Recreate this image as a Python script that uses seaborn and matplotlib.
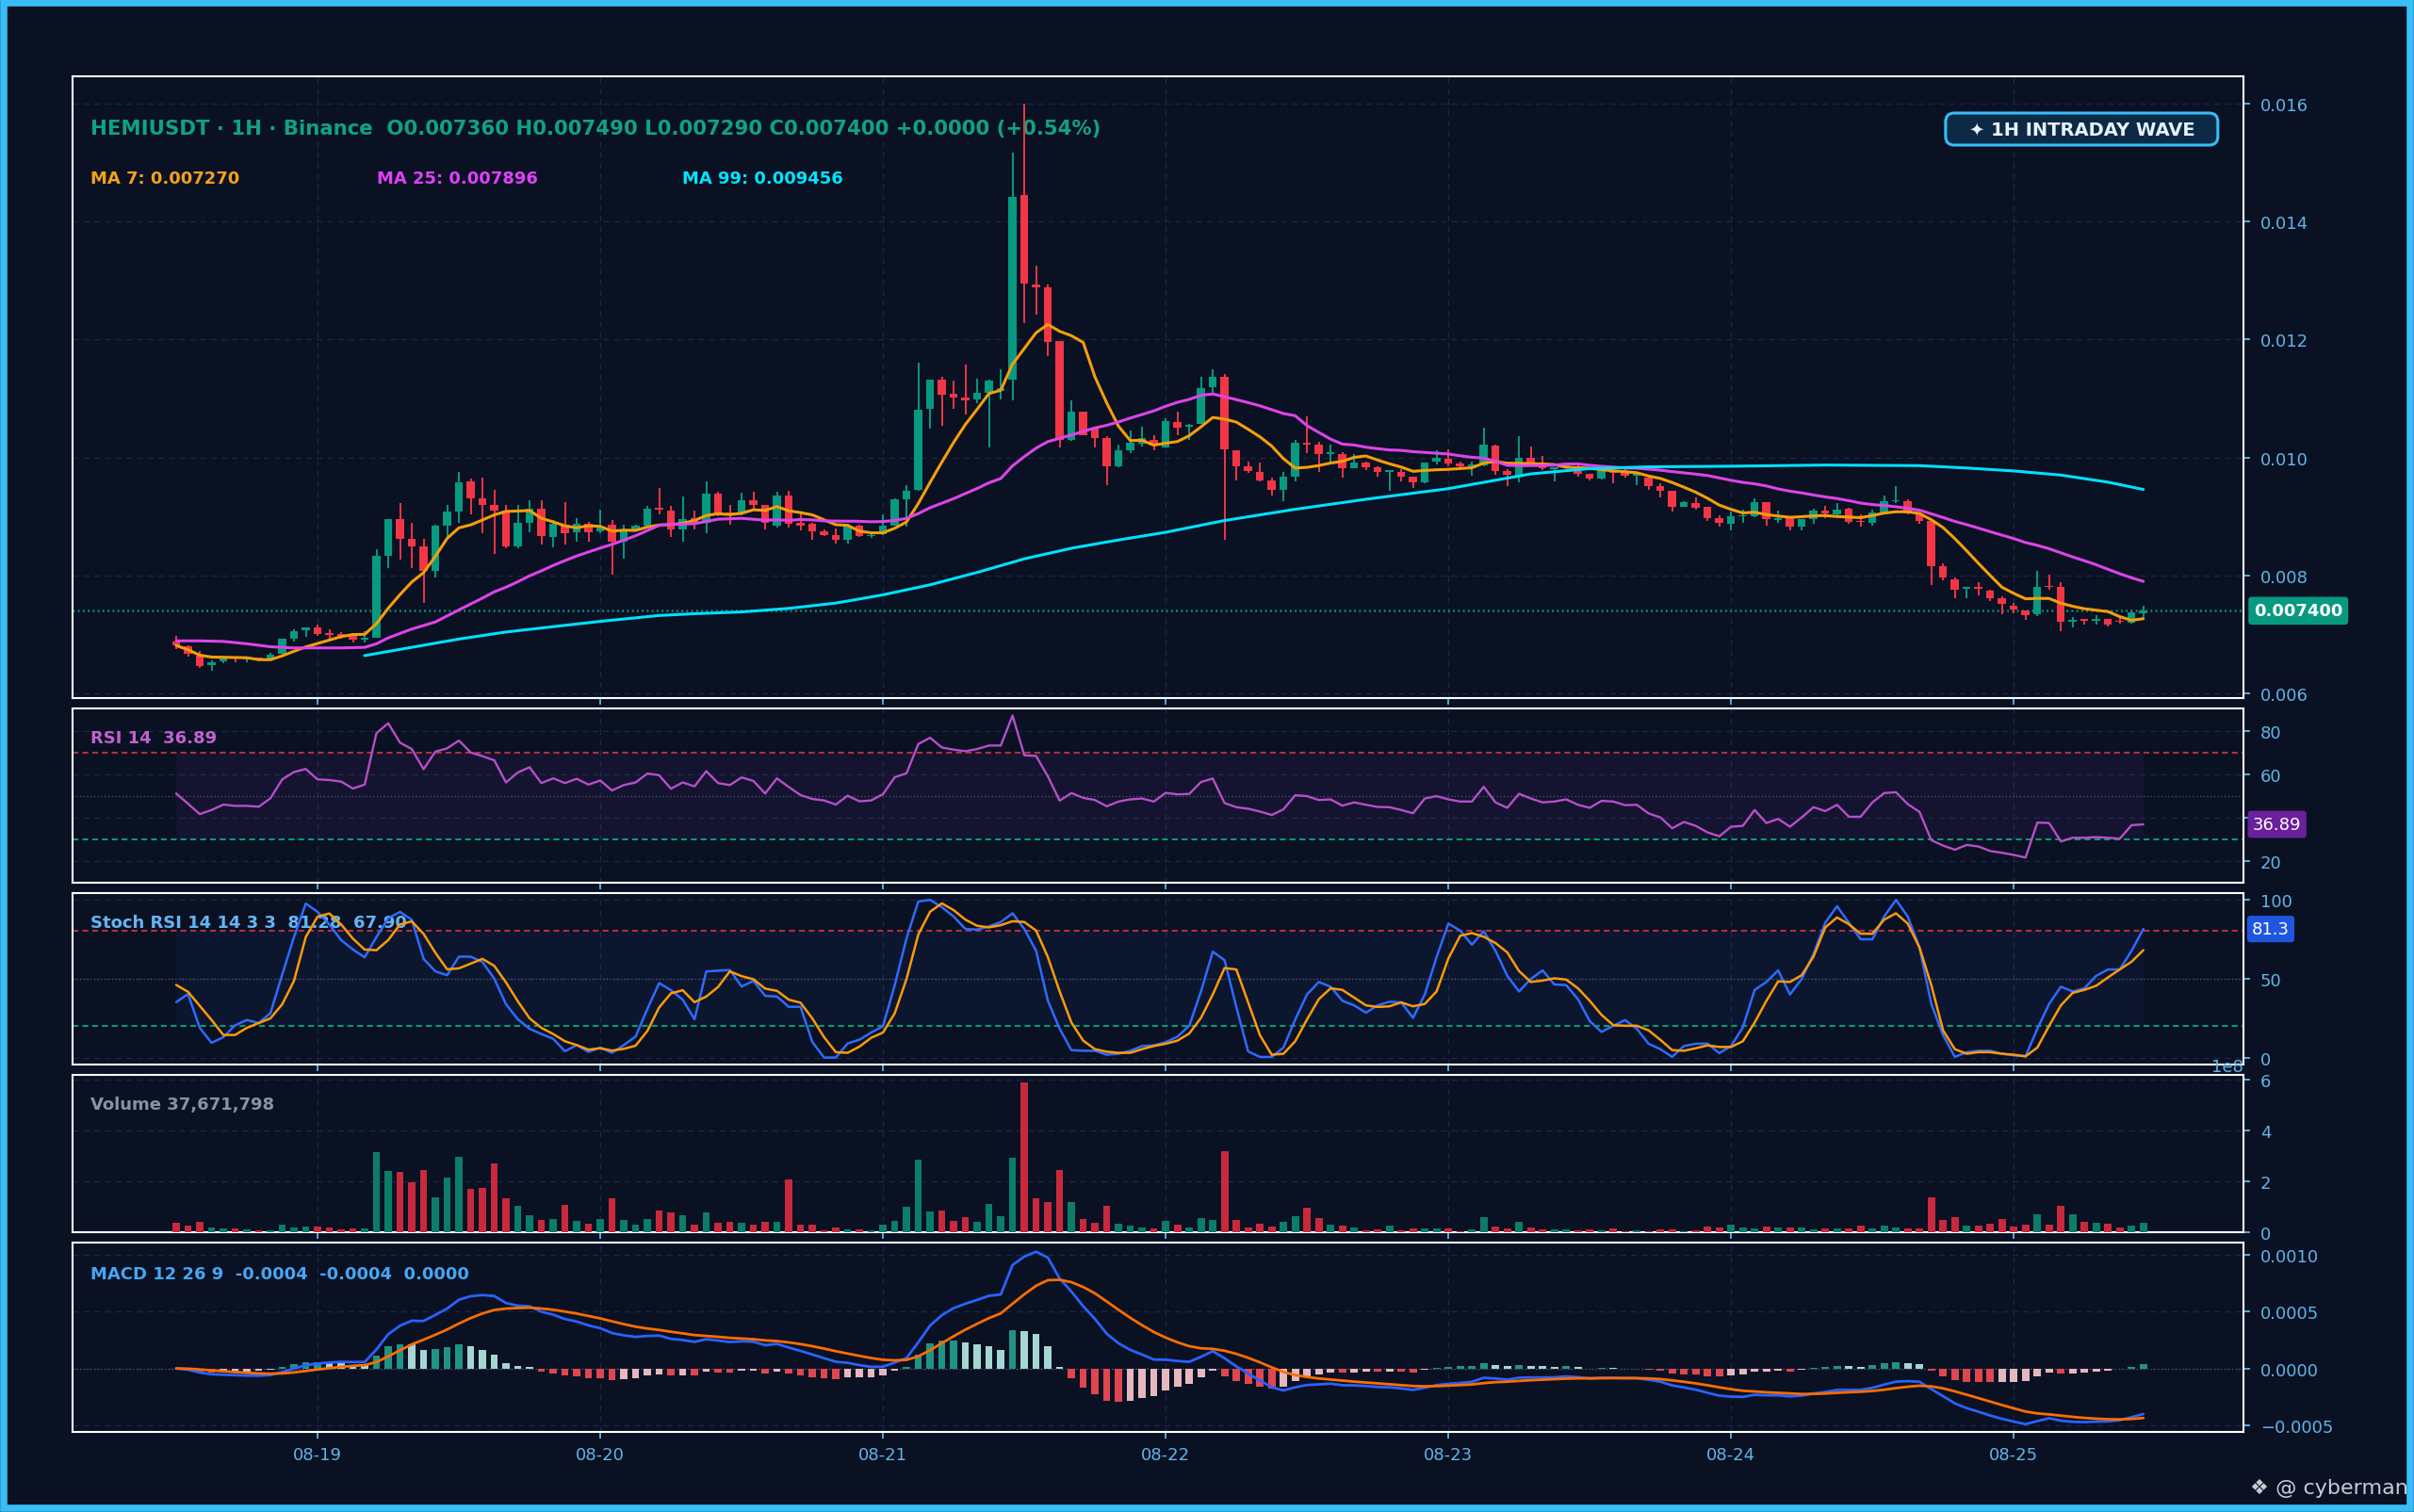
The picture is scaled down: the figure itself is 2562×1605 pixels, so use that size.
import numpy as np
import pandas as pd
import matplotlib
matplotlib.use("Agg")
import matplotlib.pyplot as plt
import matplotlib.dates as mdates
from matplotlib.patches import Rectangle, FancyBboxPatch
from matplotlib.ticker import FixedLocator, FuncFormatter
import seaborn as sns

# ---------------- data ----------------
start_time = "2025-08-18 12:00"
n_candles = 168

opens = [
    0.00688, 0.00680, 0.00664, 0.00648, 0.00654, 0.00660, 0.00657, 0.00659, 0.00659, 0.00667,
    0.00692, 0.00707, 0.00711, 0.00700, 0.00699, 0.00700, 0.00691, 0.00695, 0.00833, 0.00895,
    0.00862, 0.00849, 0.00808, 0.00884, 0.00908, 0.00960, 0.00930, 0.00920, 0.00910, 0.00849,
    0.00889, 0.00913, 0.00865, 0.00886, 0.00873, 0.00888, 0.00874, 0.00886, 0.00857, 0.00878,
    0.00884, 0.00913,
    0.00910, 0.00878, 0.00897, 0.00889, 0.00939, 0.00907, 0.00905, 0.00928, 0.00920, 0.00885,
    0.00936, 0.00889, 0.00887, 0.00874, 0.00869, 0.00861, 0.00884, 0.00866, 0.00870, 0.00884,
    0.00929, 0.00945, 0.01083, 0.01132, 0.01108, 0.01101, 0.01099, 0.01110, 0.01112, 0.01131,
    0.01444, 0.01293, 0.01288, 0.01197, 0.01029, 0.01077, 0.01048, 0.01032, 0.00985, 0.01012,
    0.01023, 0.01030,
    0.01017, 0.01060, 0.01052, 0.01057, 0.01119, 0.01137, 0.01012, 0.00985, 0.00976, 0.00961,
    0.00945, 0.00967, 0.01025, 0.01022, 0.01006, 0.01006, 0.00981, 0.00991, 0.00983, 0.00976,
    0.00975, 0.00967, 0.00957, 0.00993, 0.00998, 0.00989, 0.00985, 0.00986, 0.01020, 0.00977,
    0.00969, 0.01000, 0.00989, 0.00980, 0.00985, 0.00977, 0.00972, 0.00964, 0.00975, 0.00976,
    0.00969, 0.00966,
    0.00951, 0.00943, 0.00916, 0.00922, 0.00916, 0.00897, 0.00888, 0.00900, 0.00901, 0.00924,
    0.00894, 0.00897, 0.00882, 0.00896, 0.00910, 0.00904, 0.00913, 0.00891, 0.00889, 0.00907,
    0.00925, 0.00926, 0.00905, 0.00892, 0.00815, 0.00794, 0.00778, 0.00781, 0.00774, 0.00761,
    0.00749, 0.00741, 0.00734, 0.00782, 0.00780, 0.00722, 0.00725, 0.00723, 0.00726, 0.00723,
    0.00719, 0.007360,
]
highs = [
    0.00698, 0.00681, 0.00672, 0.00656, 0.00661, 0.00663, 0.00660, 0.00660, 0.00669, 0.00693,
    0.00708, 0.00712, 0.00717, 0.00709, 0.00704, 0.00701, 0.00706, 0.00845, 0.00895, 0.00922,
    0.00889, 0.00862, 0.00886, 0.00920, 0.00975, 0.00964, 0.00965, 0.00945, 0.00920, 0.00920,
    0.00927, 0.00927, 0.00894, 0.00924, 0.00897, 0.00891, 0.00911, 0.00894, 0.00886, 0.00886,
    0.00917, 0.00948,
    0.00918, 0.00934, 0.00910, 0.00960, 0.00941, 0.00920, 0.00940, 0.00941, 0.00920, 0.00942,
    0.00944, 0.00908, 0.00889, 0.00878, 0.00880, 0.00887, 0.00886, 0.00873, 0.00904, 0.00930,
    0.00953, 0.01160, 0.01132, 0.01137, 0.01130, 0.01157, 0.01133, 0.01132, 0.01150, 0.01516,
    0.01600, 0.01325, 0.01293, 0.01197, 0.01096, 0.01077, 0.01048, 0.01036, 0.01021, 0.01046,
    0.01052, 0.01038,
    0.01067, 0.01078, 0.01056, 0.01137, 0.01150, 0.01142, 0.01012, 0.00993, 0.00992, 0.00965,
    0.00975, 0.01030, 0.01069, 0.01026, 0.01021, 0.01009, 0.01006, 0.00993, 0.00985, 0.00978,
    0.00980, 0.00967, 0.00992, 0.01012, 0.01013, 0.00993, 0.00993, 0.01050, 0.01021, 0.00980,
    0.01036, 0.01018, 0.01002, 0.00982, 0.00991, 0.00992, 0.00972, 0.00980, 0.00980, 0.00980,
    0.00975, 0.00969,
    0.00956, 0.00943, 0.00926, 0.00932, 0.00916, 0.00902, 0.00908, 0.00912, 0.00930, 0.00924,
    0.00910, 0.00900, 0.00896, 0.00913, 0.00917, 0.00922, 0.00915, 0.00904, 0.00911, 0.00936,
    0.00951, 0.00929, 0.00905, 0.00892, 0.00821, 0.00797, 0.00781, 0.00789, 0.00776, 0.00764,
    0.00753, 0.00741, 0.00808, 0.00802, 0.00788, 0.00730, 0.00726, 0.00733, 0.00726, 0.00728,
    0.00740, 0.007490,
]
lows = [
    0.00675, 0.00662, 0.00643, 0.00638, 0.00651, 0.00652, 0.00652, 0.00655, 0.00656, 0.00666,
    0.00688, 0.00696, 0.00697, 0.00693, 0.00692, 0.00686, 0.00686, 0.00694, 0.00813, 0.00827,
    0.00812, 0.00753, 0.00796, 0.00862, 0.00889, 0.00904, 0.00872, 0.00836, 0.00846, 0.00846,
    0.00873, 0.00852, 0.00847, 0.00853, 0.00857, 0.00857, 0.00872, 0.00801, 0.00828, 0.00876,
    0.00884, 0.00903,
    0.00865, 0.00857, 0.00878, 0.00871, 0.00900, 0.00886, 0.00902, 0.00910, 0.00878, 0.00881,
    0.00881, 0.00876, 0.00861, 0.00867, 0.00854, 0.00854, 0.00865, 0.00864, 0.00868, 0.00884,
    0.00882, 0.00944, 0.01049, 0.01053, 0.01083, 0.01073, 0.01092, 0.01016, 0.01098, 0.01096,
    0.01227, 0.01242, 0.01171, 0.01017, 0.01028, 0.01038, 0.01016, 0.00953, 0.00984, 0.01008,
    0.01018, 0.01012,
    0.01016, 0.01037, 0.01030, 0.01057, 0.01110, 0.00861, 0.00961, 0.00973, 0.00960, 0.00936,
    0.00925, 0.00960, 0.01007, 0.00976, 0.00992, 0.00966, 0.00981, 0.00979, 0.00968, 0.00944,
    0.00960, 0.00948, 0.00956, 0.00988, 0.00985, 0.00983, 0.00969, 0.00985, 0.00971, 0.00952,
    0.00958, 0.00985, 0.00979, 0.00960, 0.00984, 0.00968, 0.00961, 0.00963, 0.00956, 0.00965,
    0.00953, 0.00945,
    0.00932, 0.00908, 0.00916, 0.00911, 0.00892, 0.00882, 0.00876, 0.00889, 0.00899, 0.00884,
    0.00889, 0.00876, 0.00877, 0.00887, 0.00897, 0.00900, 0.00888, 0.00882, 0.00885, 0.00905,
    0.00922, 0.00903, 0.00888, 0.00784, 0.00792, 0.00761, 0.00761, 0.00766, 0.00757, 0.00734,
    0.00736, 0.00725, 0.00731, 0.00775, 0.00705, 0.00712, 0.00716, 0.00717, 0.00714, 0.00718,
    0.00718, 0.007290,
]
closes = [
    0.00681, 0.00667, 0.00646, 0.00652, 0.00660, 0.00659, 0.00658, 0.00658, 0.00666, 0.00692,
    0.00706, 0.00712, 0.00700, 0.00699, 0.00698, 0.00691, 0.00694, 0.00833, 0.00895, 0.00862,
    0.00849, 0.00808, 0.00884, 0.00908, 0.00958, 0.00930, 0.00920, 0.00910, 0.00849, 0.00889,
    0.00913, 0.00866, 0.00888, 0.00872, 0.00888, 0.00873, 0.00881, 0.00857, 0.00878, 0.00884,
    0.00913, 0.00912,
    0.00878, 0.00896, 0.00890, 0.00938, 0.00905, 0.00902, 0.00928, 0.00919, 0.00889, 0.00935,
    0.00888, 0.00884, 0.00875, 0.00869, 0.00861, 0.00882, 0.00866, 0.00868, 0.00884, 0.00929,
    0.00944, 0.01080, 0.01132, 0.01107, 0.01102, 0.01097, 0.01110, 0.01130, 0.01118, 0.01442,
    0.01294, 0.01288, 0.01195, 0.01029, 0.01078, 0.01038, 0.01032, 0.00985, 0.01012, 0.01025,
    0.01033, 0.01020,
    0.01062, 0.01051, 0.01054, 0.01117, 0.01137, 0.01013, 0.00985, 0.00977, 0.00961, 0.00945,
    0.00967, 0.01025, 0.01022, 0.01006, 0.01007, 0.00982, 0.00991, 0.00984, 0.00976, 0.00978,
    0.00967, 0.00957, 0.00992, 0.00999, 0.00989, 0.00985, 0.00988, 0.01022, 0.00977, 0.00970,
    0.00999, 0.00985, 0.00981, 0.00981, 0.00990, 0.00972, 0.00964, 0.00980, 0.00973, 0.00969,
    0.00970, 0.00951,
    0.00943, 0.00916, 0.00924, 0.00914, 0.00897, 0.00889, 0.00900, 0.00901, 0.00924, 0.00896,
    0.00897, 0.00882, 0.00896, 0.00910, 0.00905, 0.00912, 0.00890, 0.00890, 0.00907, 0.00925,
    0.00926, 0.00905, 0.00892, 0.00815, 0.00797, 0.00776, 0.00781, 0.00777, 0.00761, 0.00752,
    0.00742, 0.00733, 0.00781, 0.00780, 0.00721, 0.00724, 0.00723, 0.00725, 0.00716, 0.00721,
    0.00737, 0.007400,
]
# volume in units of 1e8
volume_e8 = [
    0.38, 0.26, 0.41, 0.19, 0.15, 0.15, 0.11, 0.08, 0.08, 0.30,
    0.19, 0.23, 0.23, 0.19, 0.11, 0.15, 0.15, 3.16, 2.41, 2.37,
    1.96, 2.45, 1.39, 2.14, 2.97, 1.69, 1.73, 2.71, 1.35, 1.05,
    0.68, 0.49, 0.53, 1.09, 0.45, 0.34, 0.53, 1.32, 0.49, 0.30,
    0.53, 0.87, 0.79, 0.68, 0.30, 0.79, 0.38, 0.41, 0.38, 0.30,
    0.41, 0.41, 2.07, 0.30, 0.30, 0.08, 0.19, 0.11, 0.11, 0.08,
    0.30, 0.46, 1.00, 2.86, 0.83, 0.87, 0.45, 0.59, 0.41, 1.13,
    0.64, 2.93, 5.91, 1.32, 1.20, 2.45, 1.20, 0.53, 0.38, 1.05,
    0.34, 0.26, 0.19, 0.15, 0.45, 0.30, 0.19, 0.56, 0.49, 3.20,
    0.49, 0.19, 0.34, 0.23, 0.41, 0.64, 0.98, 0.56, 0.30, 0.26,
    0.19, 0.08, 0.11, 0.26, 0.08, 0.15, 0.15, 0.15, 0.15, 0.04,
    0.11, 0.60, 0.23, 0.15, 0.41, 0.19, 0.11, 0.11, 0.11, 0.08,
    0.11, 0.08, 0.15, 0.04, 0.08, 0.04, 0.11, 0.11, 0.04, 0.08,
    0.23, 0.19, 0.30, 0.19, 0.15, 0.23, 0.19, 0.19, 0.19, 0.11,
    0.15, 0.15, 0.15, 0.26, 0.15, 0.26, 0.19, 0.15, 0.15, 1.39,
    0.49, 0.60, 0.26, 0.26, 0.34, 0.53, 0.23, 0.30, 0.71, 0.30,
    1.05, 0.71, 0.41, 0.38, 0.34, 0.19, 0.26, 0.37671798,
]
# MA25 values before the 25-candle window is full
ma25_head_idx = [0, 2, 4, 6, 8, 10, 12, 14, 16, 17, 18, 20, 22]
ma25_head_val = [0.00689, 0.00689, 0.00688, 0.00684, 0.00679, 0.00677, 0.00677,
                 0.00677, 0.00678, 0.00684, 0.00694, 0.00709, 0.00721]
# MA99
ma99_idx = [16, 20, 24, 28, 32, 36, 41, 44, 48, 52, 56, 60, 64, 68, 72, 76, 80, 84, 89,
            95, 101, 108, 115, 120, 125, 132, 140, 148, 152, 156, 160, 164, 167]
ma99_val = [0.00664, 0.00678, 0.00692, 0.00704, 0.00713, 0.00722, 0.00732, 0.00735,
            0.00738, 0.00744, 0.00753, 0.00767, 0.00784, 0.00805, 0.00828, 0.00846,
            0.00860, 0.00873, 0.00893, 0.00912, 0.00929, 0.00947, 0.00972, 0.00981,
            0.00984, 0.00985, 0.00987, 0.00986, 0.00982, 0.00977, 0.00970, 0.00958, 0.009456]
rsi_vals = [
    51.1, 46.4, 41.6, 43.5, 46.0, 45.4, 45.4, 45.0, 48.9, 57.6,
    61.0, 62.4, 57.6, 57.3, 56.6, 53.4, 55.2, 78.9, 83.5, 74.5,
    71.6, 62.3, 70.4, 71.9, 75.5, 70.0, 68.3, 66.4, 56.2, 60.8,
    63.2, 55.9, 58.1, 55.9, 57.9, 55.2, 57.1, 52.5, 55.0, 56.2,
    60.3, 59.5, 53.3, 56.2, 54.4, 61.4, 55.9, 55.0, 58.5, 56.9,
    51.1, 58.1, 54.1, 50.4, 48.6, 47.9, 46.0, 50.1, 47.5, 47.9,
    50.8, 58.6, 60.4, 73.9, 76.8, 72.3, 71.3, 70.6, 71.6, 73.2,
    73.2, 87.0, 68.7, 68.4, 59.0, 47.8, 51.3, 49.1, 48.1, 45.2,
    47.4, 48.4, 48.8, 47.4, 51.4, 50.7, 50.9, 56.4, 58.0, 46.7,
    44.8, 44.1, 42.8, 41.2, 43.8, 50.3, 49.9, 48.1, 48.4, 45.5,
    47.0, 45.9, 44.9, 44.8, 43.5, 42.0, 48.8, 49.9, 48.4, 47.4,
    47.4, 54.2, 47.0, 44.5, 51.0, 48.8, 47.0, 47.4, 48.4, 45.9,
    44.5, 47.7, 47.4, 45.7, 45.9, 41.9, 40.1, 35.1, 38.0, 36.2,
    33.2, 31.4, 35.8, 36.2, 43.5, 37.5, 39.4, 35.8, 40.1, 44.8,
    43.0, 45.9, 40.4, 40.4, 47.0, 51.3, 51.7, 46.2, 42.6, 29.6,
    27.1, 25.2, 27.4, 26.7, 24.6, 23.8, 22.8, 21.6, 37.7, 37.5,
    29.0, 30.7, 30.7, 31.0, 30.7, 30.3, 36.5, 36.89,
]
stoch_k = [
    35.0, 40.2, 18.8, 9.3, 12.9, 20.4, 23.8, 21.8, 28.1, 52.5,
    76.2, 97.4, 92.1, 84.2, 74.3, 68.3, 63.4, 76.2, 88.1, 92.1,
    87.1, 62.4, 54.5, 52.1, 63.8, 63.8, 60.4, 49.9, 33.7, 24.2,
    18.2, 14.9, 11.9, 4.0, 7.9, 3.6, 6.3, 3.0, 7.9, 13.3,
    30.7, 47.1, 42.6, 36.6, 24.2, 54.5, 54.9, 55.4, 44.9, 48.5,
    39.0, 38.6, 32.1, 32.1, 9.9, 0.0, 0.0, 8.9, 11.3, 15.8,
    19.8, 45.8, 75.4, 98.7, 99.7, 95.1, 89.2, 81.3, 80.9, 82.9,
    85.7, 91.2, 81.3, 67.5, 35.9, 18.2, 4.7, 4.3, 4.3, 1.8,
    2.4, 4.3, 7.3, 7.7, 9.7, 13.2, 20.1, 41.8, 66.9, 61.6,
    32.0, 3.9, 0.4, 0.4, 6.3, 24.1, 39.9, 47.8, 44.8, 35.9,
    33.0, 28.4, 33.0, 35.3, 34.9, 25.1, 39.9, 63.5, 84.7, 80.3,
    71.4, 79.9, 67.5, 51.7, 41.8, 49.7, 55.1, 46.2, 45.8, 36.9,
    23.1, 16.2, 20.1, 23.7, 18.2, 8.7, 5.3, 0.4, 7.3, 8.7,
    8.9, 2.8, 7.3, 19.1, 42.8, 47.8, 55.1, 39.9, 49.7, 65.5,
    85.3, 95.7, 85.3, 74.8, 74.8, 89.2, 99.7, 89.2, 69.5, 33.9,
    14.2, 0.4, 3.4, 4.3, 4.3, 2.4, 1.4, 0.8, 18.2, 33.9,
    44.8, 41.8, 43.8, 51.7, 55.7, 55.7, 67.5, 81.28,
]
stoch_d = [
    45.9, 41.6, 32.7, 23.8, 14.3, 14.3, 18.8, 21.8, 24.8, 33.7,
    48.5, 76.2, 89.1, 91.1, 84.2, 75.2, 68.3, 67.9, 74.3, 84.2,
    86.1, 78.2, 66.3, 55.8, 56.4, 59.4, 62.4, 58.0, 47.5, 35.6,
    24.8, 18.8, 14.9, 10.3, 7.9, 5.0, 5.9, 4.4, 5.5, 7.5,
    16.8, 31.7, 40.6, 42.6, 35.0, 38.6, 44.6, 54.5, 51.5, 49.5,
    43.6, 42.2, 36.6, 34.7, 24.8, 12.9, 3.4, 3.0, 6.9, 12.5,
    15.8, 28.0, 49.7, 77.8, 92.2, 97.5, 93.2, 87.2, 83.3, 82.3,
    83.7, 86.2, 85.7, 80.3, 63.5, 41.8, 22.1, 10.7, 5.3, 3.7,
    3.0, 3.0, 5.3, 7.3, 8.7, 10.7, 15.2, 25.1, 39.9, 56.6,
    55.7, 34.9, 14.2, 1.8, 2.4, 10.3, 24.1, 36.9, 43.8, 42.8,
    37.9, 33.0, 32.0, 32.4, 34.9, 32.4, 33.9, 41.8, 62.6, 77.0,
    78.7, 76.4, 72.4, 66.5, 54.7, 47.8, 48.7, 50.1, 49.3, 43.8,
    35.9, 27.0, 20.5, 20.1, 20.1, 17.2, 11.2, 4.7, 4.3, 5.9,
    7.7, 6.7, 6.7, 10.3, 22.1, 35.9, 48.2, 47.8, 52.1, 63.9,
    82.3, 88.6, 84.3, 78.3, 78.3, 87.2, 91.2, 84.7, 69.5, 45.8,
    17.2, 5.3, 2.4, 3.4, 3.4, 2.4, 1.8, 0.8, 6.3, 20.1,
    33.0, 40.9, 42.8, 45.4, 50.7, 55.7, 60.6, 67.90,
]

header_text = "HEMIUSDT \u00b7 1H \u00b7 Binance  O0.007360 H0.007490 L0.007290 C0.007400 +0.0000 (+0.54%)"
ma_labels = ["MA 7: 0.007270", "MA 25: 0.007896", "MA 99: 0.009456"]
badge_text = "\u2726 1H INTRADAY WAVE"
rsi_label = "RSI 14  36.89"
stoch_label = "Stoch RSI 14 14 3 3  81.28  67.90"
vol_label = "Volume 37,671,798"
macd_label = "MACD 12 26 9  -0.0004  -0.0004  0.0000"
last_price = 0.007400
last_rsi = 36.89
last_k = 81.28
price_ticks = [0.006, 0.008, 0.010, 0.012, 0.014, 0.016]
rsi_ticks = [20, 40, 60, 80]
rsi_hidden_label = 40   # covered by the RSI value badge in the reference
stoch_ticks = [0, 50, 100]
vol_ticks = [0, 2e8, 4e8, 6e8]
macd_ticks = [-0.0005, 0.0, 0.0005, 0.0010]

# ---------------- styling ----------------
sns.set_theme(style="dark")
plt.rcParams["font.family"] = ["DejaVu Sans"]
plt.rcParams["axes.unicode_minus"] = True

BG = "#0a1123"
GRID = "#1a2846"
TICK = "#62b4e6"
UP = "#089981"
DN = "#f23645"
VUP = "#0c7d68"
VDN = "#c9293c"
BORDER = "#38bdf8"

W, H = 2562, 1606
fig = plt.figure(figsize=(W / 100, H / 100), dpi=100, facecolor=BG)

def rect(top, bottom):
    return [77 / W, 1 - bottom / H, (2381 - 77) / W, (bottom - top) / H]

ax_p = fig.add_axes(rect(82, 742))
ax_r = fig.add_axes(rect(753, 938), sharex=ax_p)
ax_s = fig.add_axes(rect(949, 1131), sharex=ax_p)
ax_v = fig.add_axes(rect(1142, 1309), sharex=ax_p)
ax_m = fig.add_axes(rect(1320, 1521), sharex=ax_p)
axes = [ax_p, ax_r, ax_s, ax_v, ax_m]

# ---------------- derived ----------------
n = n_candles
t = pd.date_range(start_time, periods=n, freq="h")
x = mdates.date2num(t.to_pydatetime())
hour = 1.0 / 24.0

O = np.array(opens[:n]); Hh = np.array(highs[:n]); L = np.array(lows[:n]); C = np.array(closes[:n])
V = np.array(volume_e8[:n]) * 1e8
up = C >= O
cs = pd.Series(C)
ma7 = cs.rolling(7, min_periods=1).mean().values
ma25_full = cs.rolling(25).mean().values
ma25_x = np.concatenate([x[ma25_head_idx], x[24:]])
ma25_y = np.concatenate([ma25_head_val, ma25_full[24:]])

ema12 = cs.ewm(span=12, adjust=False).mean()
ema26 = cs.ewm(span=26, adjust=False).mean()
macd = (ema12 - ema26).values
signal = pd.Series(macd).ewm(span=9, adjust=False).mean().values
hist = macd - signal
hcols = []
for i, hv in enumerate(hist):
    prev = hist[i - 1] if i > 0 else hv
    if hv >= 0:
        hcols.append("#1f9485" if hv >= prev else "#a6d6d1")
    else:
        hcols.append("#e0464f" if hv <= prev else "#e6b7bd")

# ---------------- price panel ----------------
for a in axes:
    a.set_facecolor(BG)

ax_p.axhline(last_price, color=UP, ls=(0, (0.7, 1.4)), lw=1.8, zorder=2)
ccol = np.where(up, UP, DN)
ax_p.vlines(x, L, Hh, colors=ccol, lw=1.4, zorder=3)
body = np.maximum(np.abs(C - O), 0.000025)
ax_p.bar(x, body, bottom=np.minimum(O, C), width=0.68 * hour, color=ccol, lw=0, zorder=4)
sns.lineplot(x=x, y=ma7, ax=ax_p, color="#f59e0b", linewidth=2.2, legend=False, zorder=5)
sns.lineplot(x=ma25_x, y=ma25_y, ax=ax_p, color="#dd44e8", linewidth=2.2, legend=False, zorder=5)
sns.lineplot(x=x[ma99_idx], y=ma99_val, ax=ax_p, color="#00e1ff", linewidth=2.2, legend=False, zorder=5)
ax_p.set_ylim(0.00592, 0.01646)

ax_p.text(0.0082, 0.917, header_text, transform=ax_p.transAxes, color="#0fa37f",
          fontsize=15.3, fontweight="bold", va="center", ha="left", zorder=2.5)
for lbl, xf, col in zip(ma_labels, [0.0082, 0.140, 0.281], ["#f5a11c", "#e040fb", "#00e5ff"]):
    ax_p.text(xf, 0.836, lbl, transform=ax_p.transAxes, color=col, fontsize=13,
              fontweight="bold", va="center", ha="left")
badge = FancyBboxPatch((0.8628, 0.8894), 0.1254, 0.0515,
                       boxstyle="round,pad=0,rounding_size=0.004", mutation_aspect=3.49,
                       transform=ax_p.transAxes, fc="#0c2a46", ec=BORDER, lw=2.2, zorder=6)
ax_p.add_patch(badge)
ax_p.text(0.8628 + 0.1254 / 2, 0.8894 + 0.0515 / 2, badge_text, transform=ax_p.transAxes,
          color="#e8f1fb", fontsize=14, fontweight="bold", ha="center", va="center", zorder=7)
ax_p.annotate(f"{last_price:.6f}", xy=(1, last_price), xycoords=("axes fraction", "data"),
              xytext=(11, 0), textcoords="offset pixels", ha="left", va="center",
              color="white", fontsize=13, fontweight="bold", annotation_clip=False,
              bbox=dict(boxstyle="round,pad=0.32,rounding_size=0.2", fc=UP, ec="none"), zorder=10)

# ---------------- RSI ----------------
ax_r.fill_between([x[0], x[-1]], 30, 70, color="#8e3fd0", alpha=0.08, lw=0, zorder=1)
ax_r.axhline(70, color="#b0303f", ls=(0, (3, 2)), lw=1.5, zorder=2)
ax_r.axhline(30, color="#0b9a6c", ls=(0, (3, 2)), lw=1.5, zorder=2)
ax_r.axhline(50, color="#4f5a70", ls=(0, (1, 2)), lw=0.9, zorder=2)
sns.lineplot(x=x, y=np.array(rsi_vals[:n]), ax=ax_r, color="#b64fc8", linewidth=1.7, legend=False, zorder=5)
ax_r.set_ylim(10, 90.3)
ax_r.text(0.0082, 0.832, rsi_label, transform=ax_r.transAxes, color="#c062cf",
          fontsize=13, fontweight="bold", va="center", ha="left")
ax_r.annotate(f"{last_rsi:.2f}", xy=(1, last_rsi), xycoords=("axes fraction", "data"),
              xytext=(10, 0), textcoords="offset pixels", ha="left", va="center",
              color="white", fontsize=13, annotation_clip=False,
              bbox=dict(boxstyle="round,pad=0.3,rounding_size=0.2", fc="#6a1f9b", ec="none"), zorder=10)

# ---------------- Stoch RSI ----------------
ax_s.fill_between([x[0], x[-1]], 20, 80, color="#2f5bd8", alpha=0.07, lw=0, zorder=1)
ax_s.axhline(80, color="#b0303f", ls=(0, (3, 2)), lw=1.5, zorder=2)
ax_s.axhline(20, color="#0b9a6c", ls=(0, (3, 2)), lw=1.5, zorder=2)
ax_s.axhline(50, color="#4f5a70", ls=(0, (1, 2)), lw=0.9, zorder=2)
sns.lineplot(x=x, y=np.array(stoch_k[:n]), ax=ax_s, color="#2f6bff", linewidth=1.8, legend=False, zorder=5)
sns.lineplot(x=x, y=np.array(stoch_d[:n]), ax=ax_s, color="#ff9a0a", linewidth=1.8, legend=False, zorder=5)
ax_s.set_ylim(-4.4, 104)
ax_s.text(0.0082, 0.83, stoch_label, transform=ax_s.transAxes, color="#64b5f6",
          fontsize=13, fontweight="bold", va="center", ha="left", zorder=4)
ax_s.annotate(f"{last_k:.1f}", xy=(1, last_k), xycoords=("axes fraction", "data"),
              xytext=(9, 0), textcoords="offset pixels", ha="left", va="center",
              color="white", fontsize=13, annotation_clip=False,
              bbox=dict(boxstyle="round,pad=0.28,rounding_size=0.2", fc="#1f56e0", ec="none"), zorder=10)

# ---------------- Volume ----------------
ax_v.bar(x, V, width=0.62 * hour, color=np.where(up, VUP, VDN), lw=0, zorder=3)
ax_v.set_ylim(0, 6.2e8)
ax_v.text(0.0082, 0.814, vol_label, transform=ax_v.transAxes, color="#8a91a3",
          fontsize=13, fontweight="bold", va="center", ha="left")

# ---------------- MACD ----------------
ax_m.axhline(0, color="#4f5a70", ls=(0, (1, 2)), lw=0.9, zorder=2)
ax_m.bar(x, hist, width=0.62 * hour, color=hcols, lw=0, zorder=3)
sns.lineplot(x=x, y=macd, ax=ax_m, color="#2962ff", linewidth=2.0, legend=False, zorder=5)
sns.lineplot(x=x, y=signal, ax=ax_m, color="#ff6d00", linewidth=2.0, legend=False, zorder=5)
ax_m.set_ylim(-0.00056, 0.00111)
ax_m.text(0.0082, 0.836, macd_label, transform=ax_m.transAxes, color="#46a6f2",
          fontsize=13, fontweight="bold", va="center", ha="left")

# ---------------- axes common ----------------
ax_p.set_xlim(x[0] - 8.8 * hour, x[0] + 175.5 * hour)
ax_m.xaxis.set_major_locator(mdates.DayLocator())
ax_m.xaxis.set_major_formatter(mdates.DateFormatter("%m-%d"))

tick_sets = [(ax_p, price_ticks, lambda v, p: f"{v:.3f}"),
             (ax_r, rsi_ticks, lambda v, p: "" if abs(v - rsi_hidden_label) < 1e-9 else f"{v:.0f}"),
             (ax_s, stoch_ticks, None),
             (ax_v, vol_ticks, None),
             (ax_m, macd_ticks, lambda v, p: f"{v:.4f}".replace("-", "\u2212") if abs(v) > 1e-12 else "0.0000")]
for a, tk, fmt in tick_sets:
    a.yaxis.tick_right()
    a.yaxis.set_major_locator(FixedLocator(tk))
    if fmt is not None:
        a.yaxis.set_major_formatter(FuncFormatter(fmt))
    for s in a.spines.values():
        s.set_color("white")
        s.set_linewidth(1.5)
    a.tick_params(axis="y", which="both", colors=TICK, labelcolor=TICK, labelsize=13,
                  length=5, width=1.3, pad=8, left=False, right=True, labelleft=False, labelright=True)
    a.tick_params(axis="x", colors=TICK, labelcolor=TICK, labelsize=13, length=5, width=1.3,
                  bottom=True, top=False, pad=6)
    a.grid(True, color=GRID, ls=(0, (5, 4)), lw=0.9)
    a.set_axisbelow(True)
    a.set_xlabel("")
    a.set_ylabel("")
for a in axes[:-1]:
    a.tick_params(axis="x", labelbottom=False)

ax_v.yaxis.set_offset_position("right")
ax_v.yaxis.get_offset_text().set_color(TICK)
ax_v.yaxis.get_offset_text().set_fontsize(13)

# ---------------- frame & watermark ----------------
fig.text(0.9978, 0.0165, "\u2756 @ cyberman", ha="right", va="center", color="#c9ccd3", fontsize=16)
fig.add_artist(Rectangle((4 / W, 4 / H), 1 - 8 / W, 1 - 8 / H, transform=fig.transFigure,
                         fill=False, ec=BORDER, lw=5.5, zorder=100))

fig.savefig("out.png", dpi=100, facecolor=BG)
